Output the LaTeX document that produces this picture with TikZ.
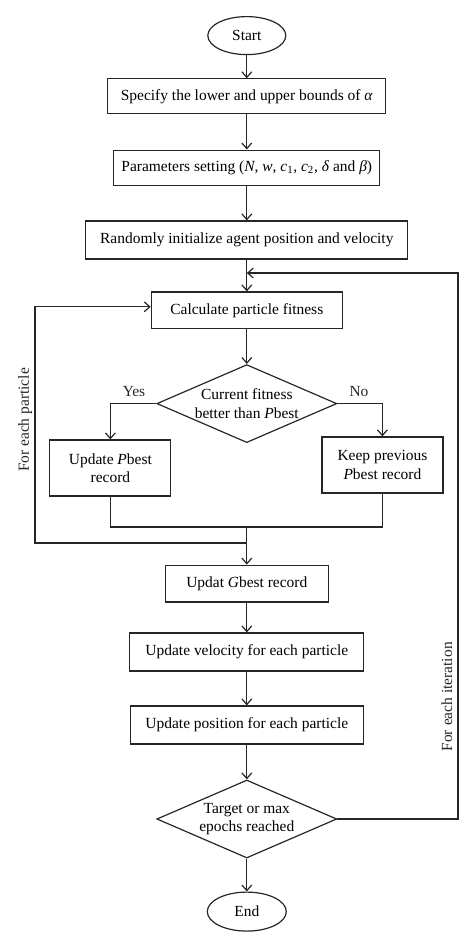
\documentclass[tikz,border=0pt]{standalone}
\usepackage{fontspec}
\setmainfont{Liberation Serif}
\usepackage{tikz}
\usetikzlibrary{arrows.meta,positioning,calc,shapes.geometric}
\definecolor{InkGray}{HTML}{262626}

\begin{document}
\begin{tikzpicture}[>={Straight Barb[length=4pt,width=7pt]},
  line width=.85pt,draw=InkGray,
  stepbox/.style={draw=InkGray,rectangle,minimum height=.92cm,inner sep=2pt,font=\fontsize{11}{13.2}\selectfont,align=center},
  termnode/.style={draw=InkGray,ellipse,minimum width=1.95cm,minimum height=.95cm,inner sep=0pt,font=\fontsize{11}{13.2}\selectfont},
  decide/.style={draw=InkGray,diamond,aspect=2.3,minimum width=4.5cm,minimum height=1.95cm,inner sep=0pt,font=\fontsize{11}{13.2}\selectfont,align=center},
  flow/.style={->,InkGray},
  lbl/.style={font=\fontsize{11}{13.2}\selectfont,text=InkGray}]
\useasboundingbox (0,0) rectangle (11.85,-23.675);

% Columna principal
\node[termnode] (start) at (6.17,-.89) {Start};
\node[stepbox,minimum width=6.95cm,minimum height=.875cm] (bounds) at (6.17,-2.41) {Specify the lower and upper bounds of \textit{α}};
\node[stepbox,minimum width=6.65cm,minimum height=.875cm] (params) at (6.17,-4.19) {Parameters setting (\textit{N}, \textit{w}, \textit{c}\textsubscript{1}, \textit{c}\textsubscript{2}, \textit{δ} and \textit{β})};
\node[stepbox,minimum width=8.05cm,minimum height=.95cm] (init) at (6.17,-6.0) {Randomly initialize agent position and velocity};
\coordinate (join) at (6.17,-6.825);
\node[stepbox,minimum width=4.775cm] (fitness) at (6.17,-7.76) {Calculate particle fitness};
\node[decide] (better) at (6.17,-10.09) {Current fitness\\better than \textit{P}best};

% Ramas Pbest
\node[stepbox,minimum width=3.025cm,minimum height=1.4cm] (pupd) at (2.76,-11.7) {Update \textit{P}best\\record};
\node[stepbox,minimum width=3.025cm,minimum height=1.4cm] (pkeep) at (9.56,-11.625) {Keep previous\\\textit{P}best record};
\node[lbl] (yes) at (3.35,-9.8) {Yes};
\node[lbl] (no) at (8.975,-9.8) {No};
\coordinate (merge) at (6.17,-13.175);
\coordinate (ploop) at (6.17,-13.575);
\coordinate (pleft) at (.875,-13.575);

% Parte inferior
\node[stepbox,minimum width=4.075cm] (gbest) at (6.17,-14.59) {Updat \textit{G}best record};
\node[stepbox,minimum width=5.85cm,minimum height=.95cm] (veloc) at (6.17,-16.3) {Update velocity for each particle};
\node[stepbox,minimum width=5.825cm,minimum height=.95cm] (posit) at (6.17,-18.125) {Update position for each particle};
\node[decide] (stop) at (6.17,-20.475) {Target or max\\epochs reached};
\node[termnode,minimum width=1.975cm,minimum height=.975cm] (finish) at (6.17,-22.79) {End};
\coordinate (pright) at (11.45,-20.475);

% Etiquetas de bucle
\node[lbl,rotate=90] (eachpart) at (.63,-10.5) {For each particle};
\node[lbl,rotate=90] (eachiter) at (11.17,-17.42) {For each iteration};

% Flechas
\draw[flow] (start) -- (bounds);
\draw[flow] (bounds) -- (params);
\draw[flow] (params) -- (init);
\draw[flow] (init) -- (fitness);
\draw[flow] (fitness) -- (better);
\draw[flow] (better.west) -| (pupd.north);
\draw[flow] (better.east) -| (pkeep.north);
\draw (pupd.south) |- (merge) -| (pkeep.south);
\draw[flow] (merge) -- (gbest);
\draw[flow] (ploop) -- (pleft) |- ($(fitness.west)+(0,.09)$);
\draw[flow] (gbest) -- (veloc);
\draw[flow] (veloc) -- (posit);
\draw[flow] (posit) -- (stop);
\draw[flow] (stop) -- (finish);
\draw[flow] (stop.east) -- (pright) |- (join);
\end{tikzpicture}
\end{document}
